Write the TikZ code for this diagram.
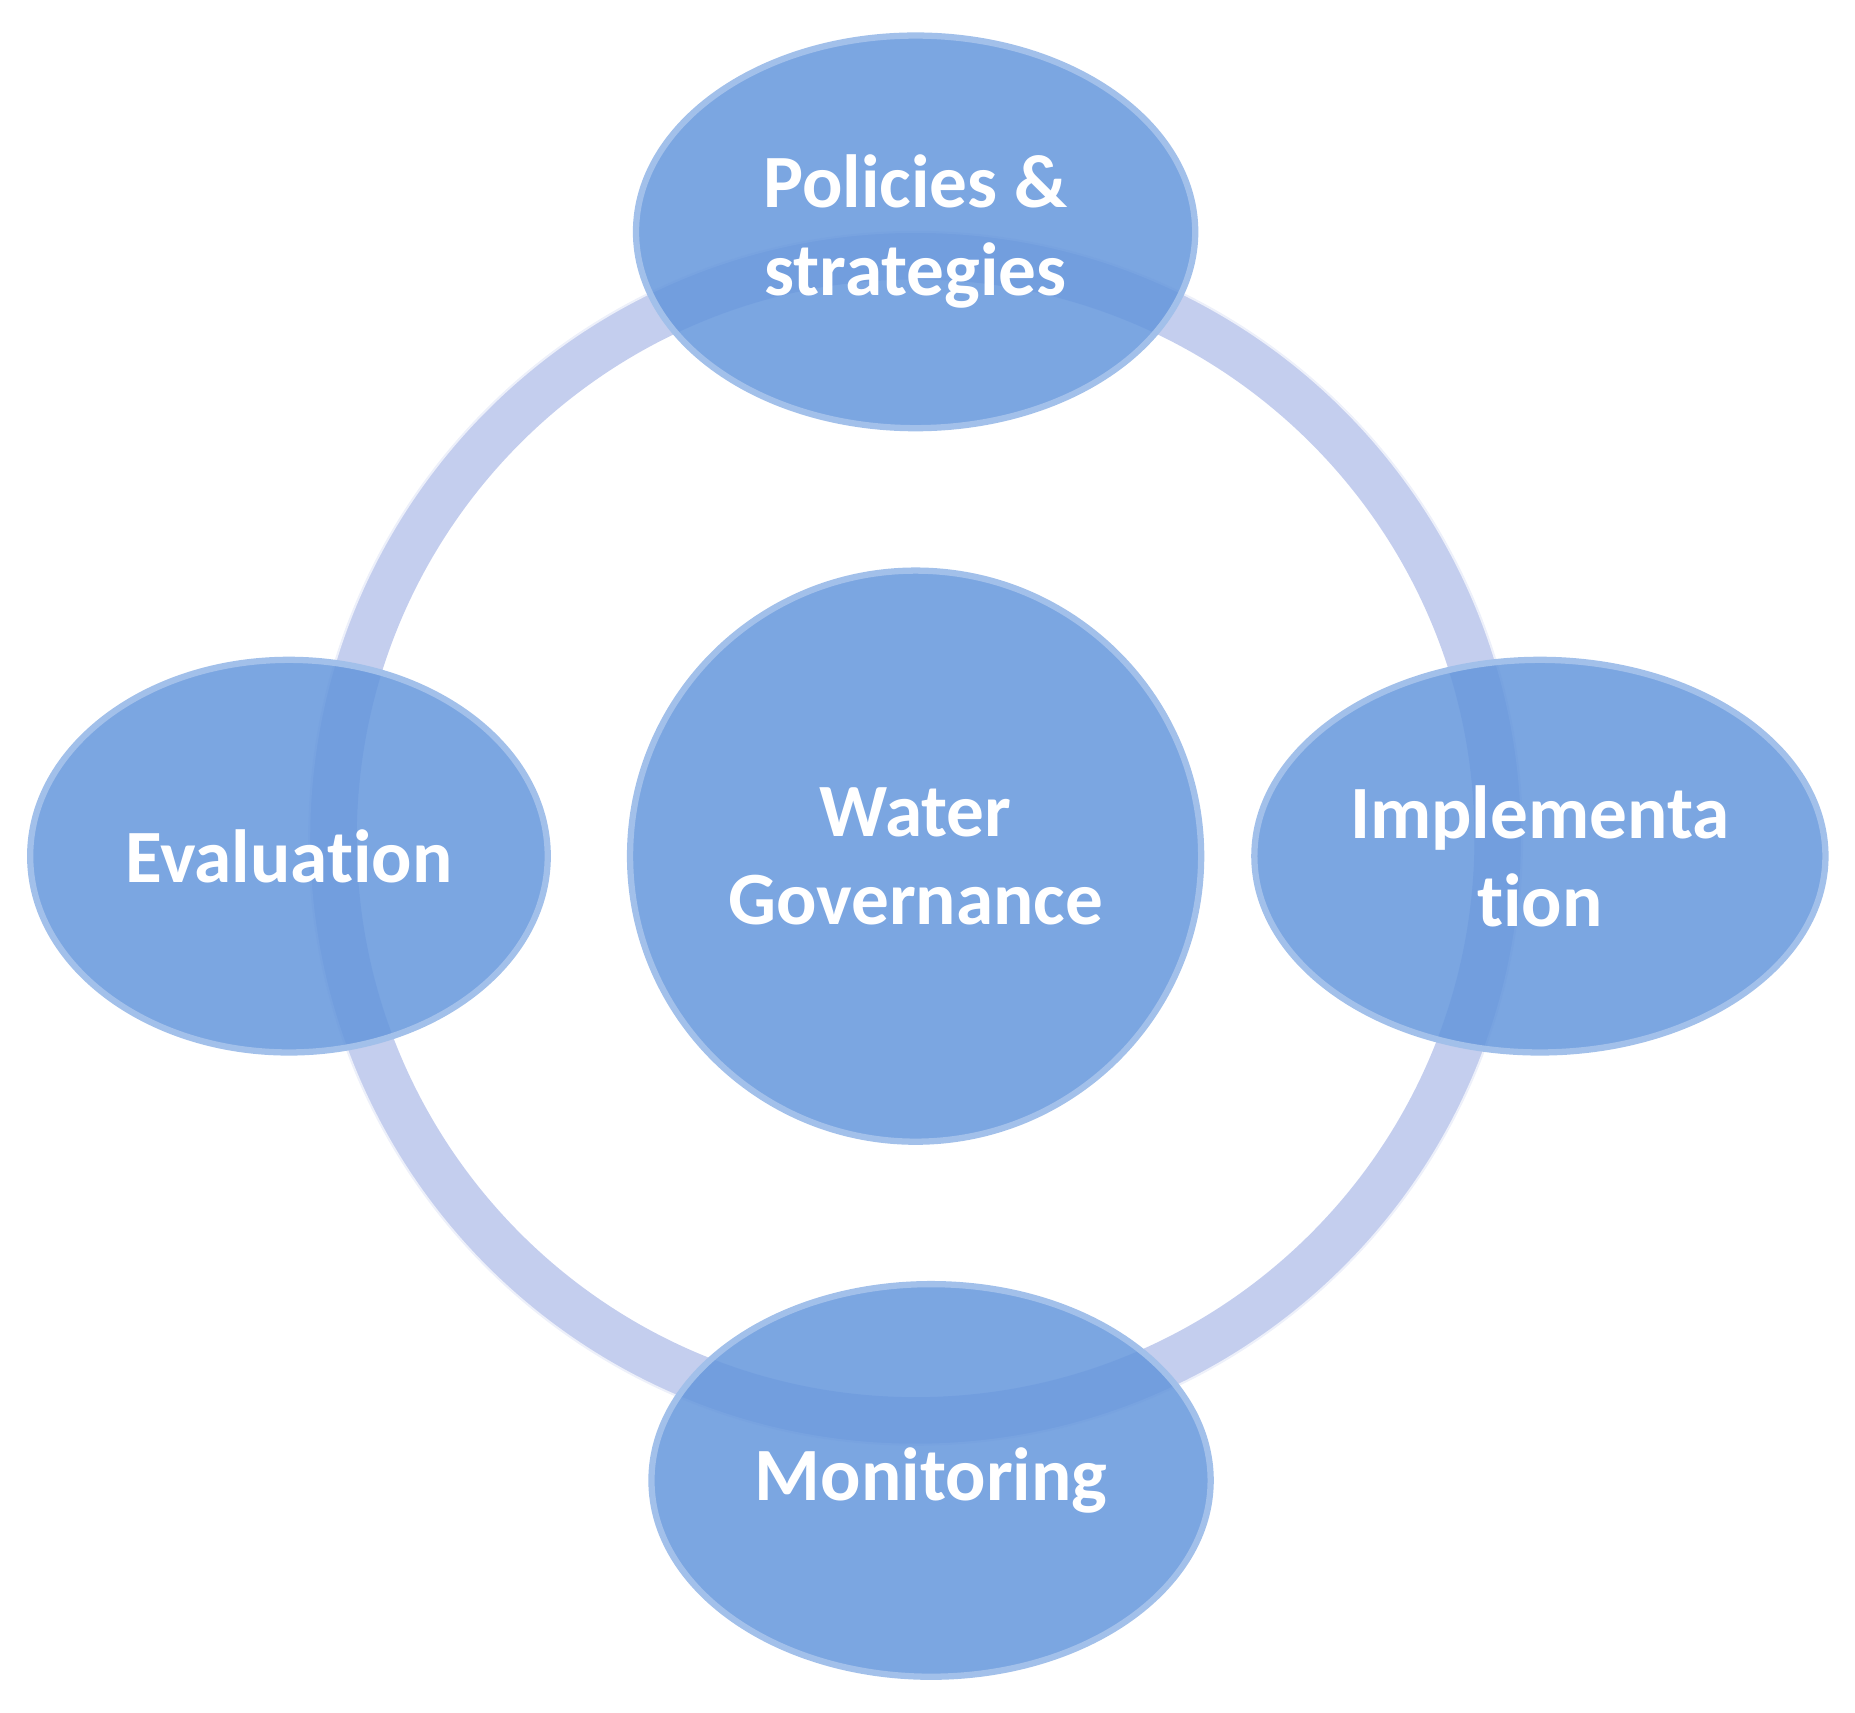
\documentclass[tikz,border=0pt]{standalone}
\usepackage{fontspec}
\setmainfont{Carlito}[RawFeature=-liga]
\usetikzlibrary{shapes.geometric}
\definecolor{bubble}{RGB}{100,150,220}
\definecolor{ringcol}{RGB}{196,206,238}
\tikzset{
  stage/.style={ellipse,fill=bubble,fill opacity=0.85,draw=bubble!60!white,line width=1.5pt,
    text=white,text opacity=1,font=\bfseries\fontsize{18}{21}\selectfont,align=center,inner sep=0pt},
}
\begin{document}
\begin{tikzpicture}[x=0.01cm,y=-0.01cm]
  \useasboundingbox (0,0) rectangle (1560,1440);
  % ring
  \draw[ringcol,line width=0.4cm] (770,705) circle (490);
  \draw[white!70!ringcol,line width=0.5pt] (770,705) circle (510);
  % centre
  \node[stage,circle,minimum size=4.8cm] (centre) at (770,720) {Water\\Governance};
  % stages
  \node[stage,minimum width=4.7cm,minimum height=3.3cm] (policies) at (770,195) {Policies \&\\strategies};
  \node[stage,minimum width=4.8cm,minimum height=3.3cm] (impl) at (1295,720) {Implementa\\tion};
  \node[stage,minimum width=4.7cm,minimum height=3.3cm] (monitor) at (783,1245) {Monitoring};
  \node[stage,minimum width=4.35cm,minimum height=3.3cm] (eval) at (243,720) {Evaluation};
\end{tikzpicture}
\end{document}
